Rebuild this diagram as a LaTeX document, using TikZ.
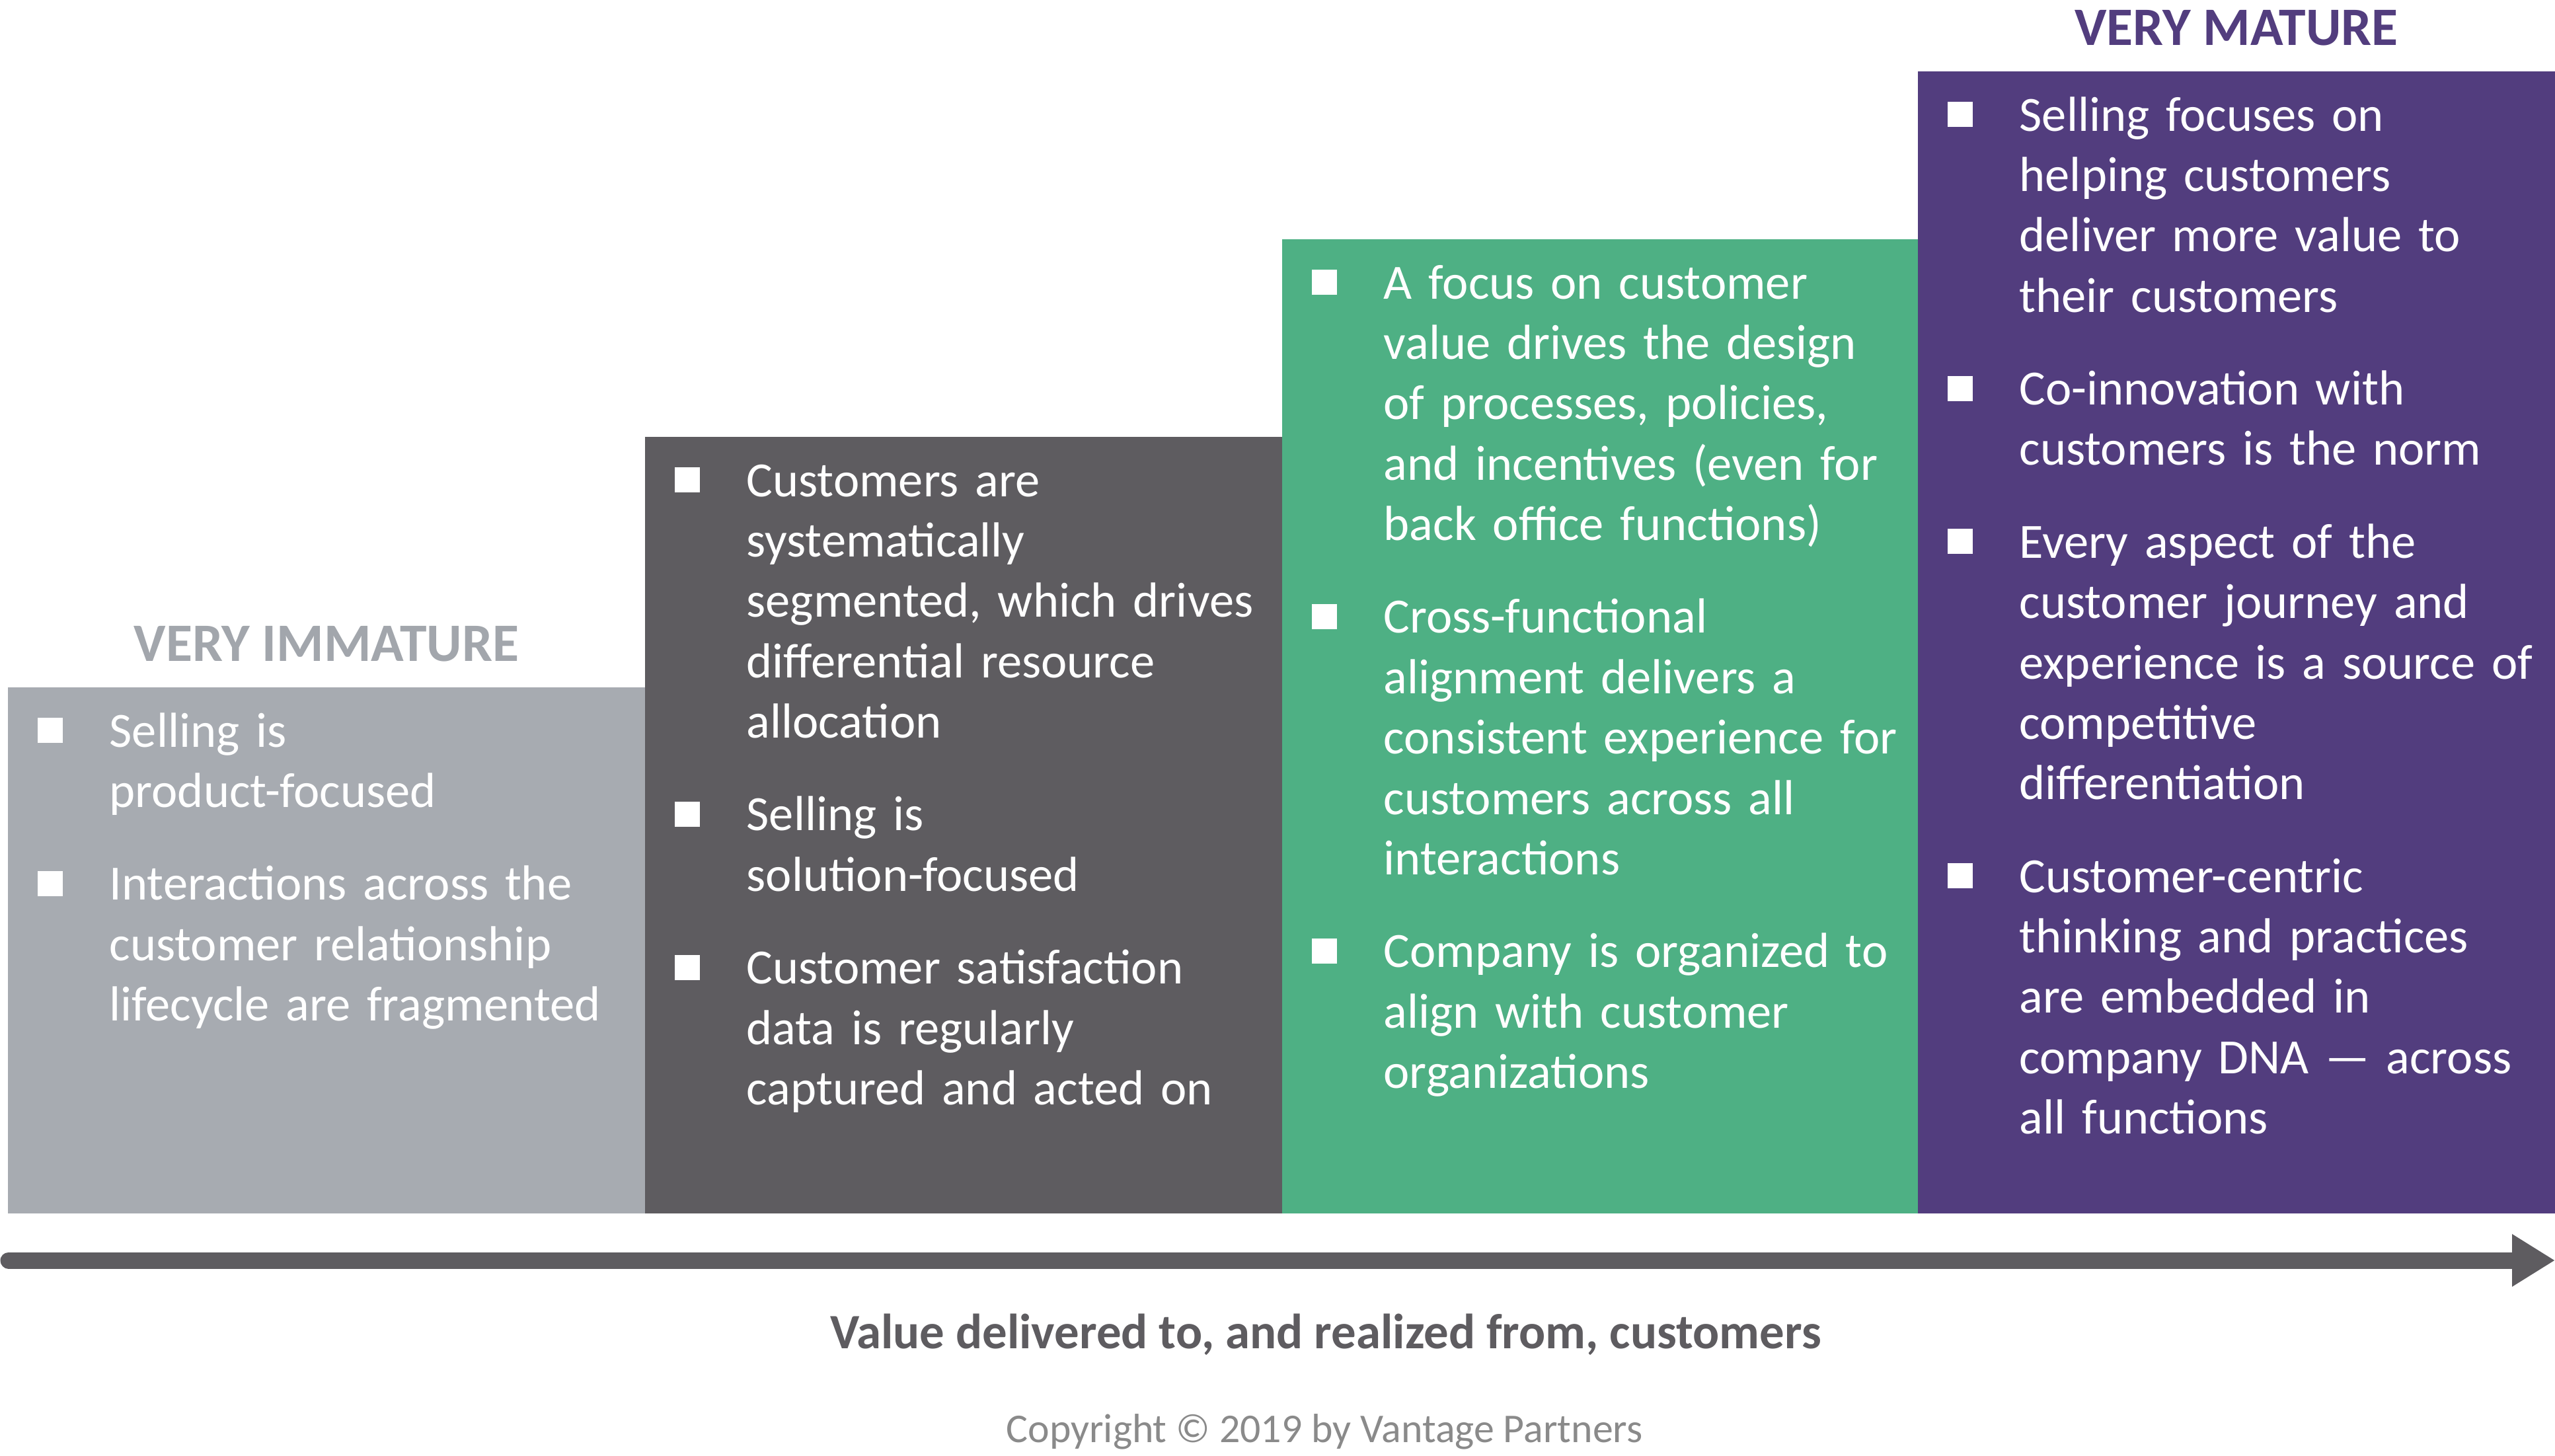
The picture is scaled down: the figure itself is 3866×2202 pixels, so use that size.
\documentclass[tikz,border=0pt]{standalone}
\usepackage{fontspec}
\setmainfont{Carlito}
\usetikzlibrary{arrows.meta,positioning}
\definecolor{stagegray}{RGB}{167,171,177}
\definecolor{stagedark}{RGB}{94,92,96}
\definecolor{stagegreen}{RGB}{78,176,132}
\definecolor{stagepurple}{RGB}{82,61,126}
\definecolor{titlegray}{RGB}{162,166,172}
\definecolor{notegray}{RGB}{138,138,138}
\newcommand{\bul}{\noindent\llap{\rule[.6mm]{3.8mm}{3.8mm}\hspace{7.1mm}}}
\newcommand{\nextbul}{\par\vspace{4.9mm}\bul}

\begin{document}
\begin{tikzpicture}[x=.1mm,y=-.1mm,
    stagetext/.style={anchor=base west,text width=90mm,align=left,inner sep=0pt,text=white,font=\fontsize{21.2pt}{26pt}\selectfont},
    stagehead/.style={anchor=base,inner sep=0pt,font=\fontsize{23.3pt}{28pt}\selectfont\bfseries}]
        \useasboundingbox (0,0) rectangle (3866,2202);
        % four maturity steps
        \fill[stagegray] (12,1040) rectangle (976,1836);
        \fill[stagedark] (976,661) rectangle (1940,1836);
        \fill[stagegreen] (1940,362) rectangle (2902,1836);
        \fill[stagepurple] (2902,108) rectangle (3866,1836);
        \node[stagehead,text=titlegray] (immature) at (494,1000) {VERY IMMATURE};
        \node[stagehead,text=stagepurple] (mature) at (3384,68) {VERY MATURE};
        \node[stagetext] (stage1) at (165,1130) {\bul Selling is\\product-focused
          \nextbul Interactions across the\\customer relationship\\lifecycle are fragmented};
        \node[stagetext] (stage2) at (1129,751) {\bul Customers are\\systematically\\segmented, which drives\\differential resource\\allocation
          \nextbul Selling is\\solution-focused
          \nextbul Customer satisfaction\\data is regularly\\captured and acted on};
        \node[stagetext] (stage3) at (2093,452) {\bul A focus on customer\\value drives the design\\of processes, policies,\\and incentives (even for\\back office functions)
          \nextbul Cross-functional\\alignment delivers a\\consistent experience for\\customers across all\\interactions
          \nextbul Company is organized to\\align with customer\\organizations};
        \node[stagetext] (stage4) at (3055,198) {\bul Selling focuses on\\helping customers\\deliver more value to\\their customers
          \nextbul Co-innovation with\\customers is the norm
          \nextbul Every aspect of the\\customer journey and\\experience is a source of\\competitive\\differentiation
          \nextbul Customer-centric\\thinking and practices\\are embedded in\\company DNA — across\\all functions};
        % value axis
        \coordinate (axisstart) at (13,1907); \coordinate (axisend) at (3866,1907);
        \draw[stagedark,line width=2.5mm,line cap=round,-{Triangle[length=6.5mm,width=7.5mm]}] (axisstart) -- (axisend);
        \node[anchor=base,inner sep=0pt,text=stagedark,font=\fontsize{21.3pt}{25pt}\selectfont\bfseries] (axislabel) at (2006,2040) {Value delivered to, and realized from, customers};
        \node[anchor=base,inner sep=0pt,text=notegray,font=\fontsize{17.6pt}{21pt}\selectfont] (copyright) at (2004,2182) {Copyright © 2019 by Vantage Partners};
      \end{tikzpicture}
\end{document}
